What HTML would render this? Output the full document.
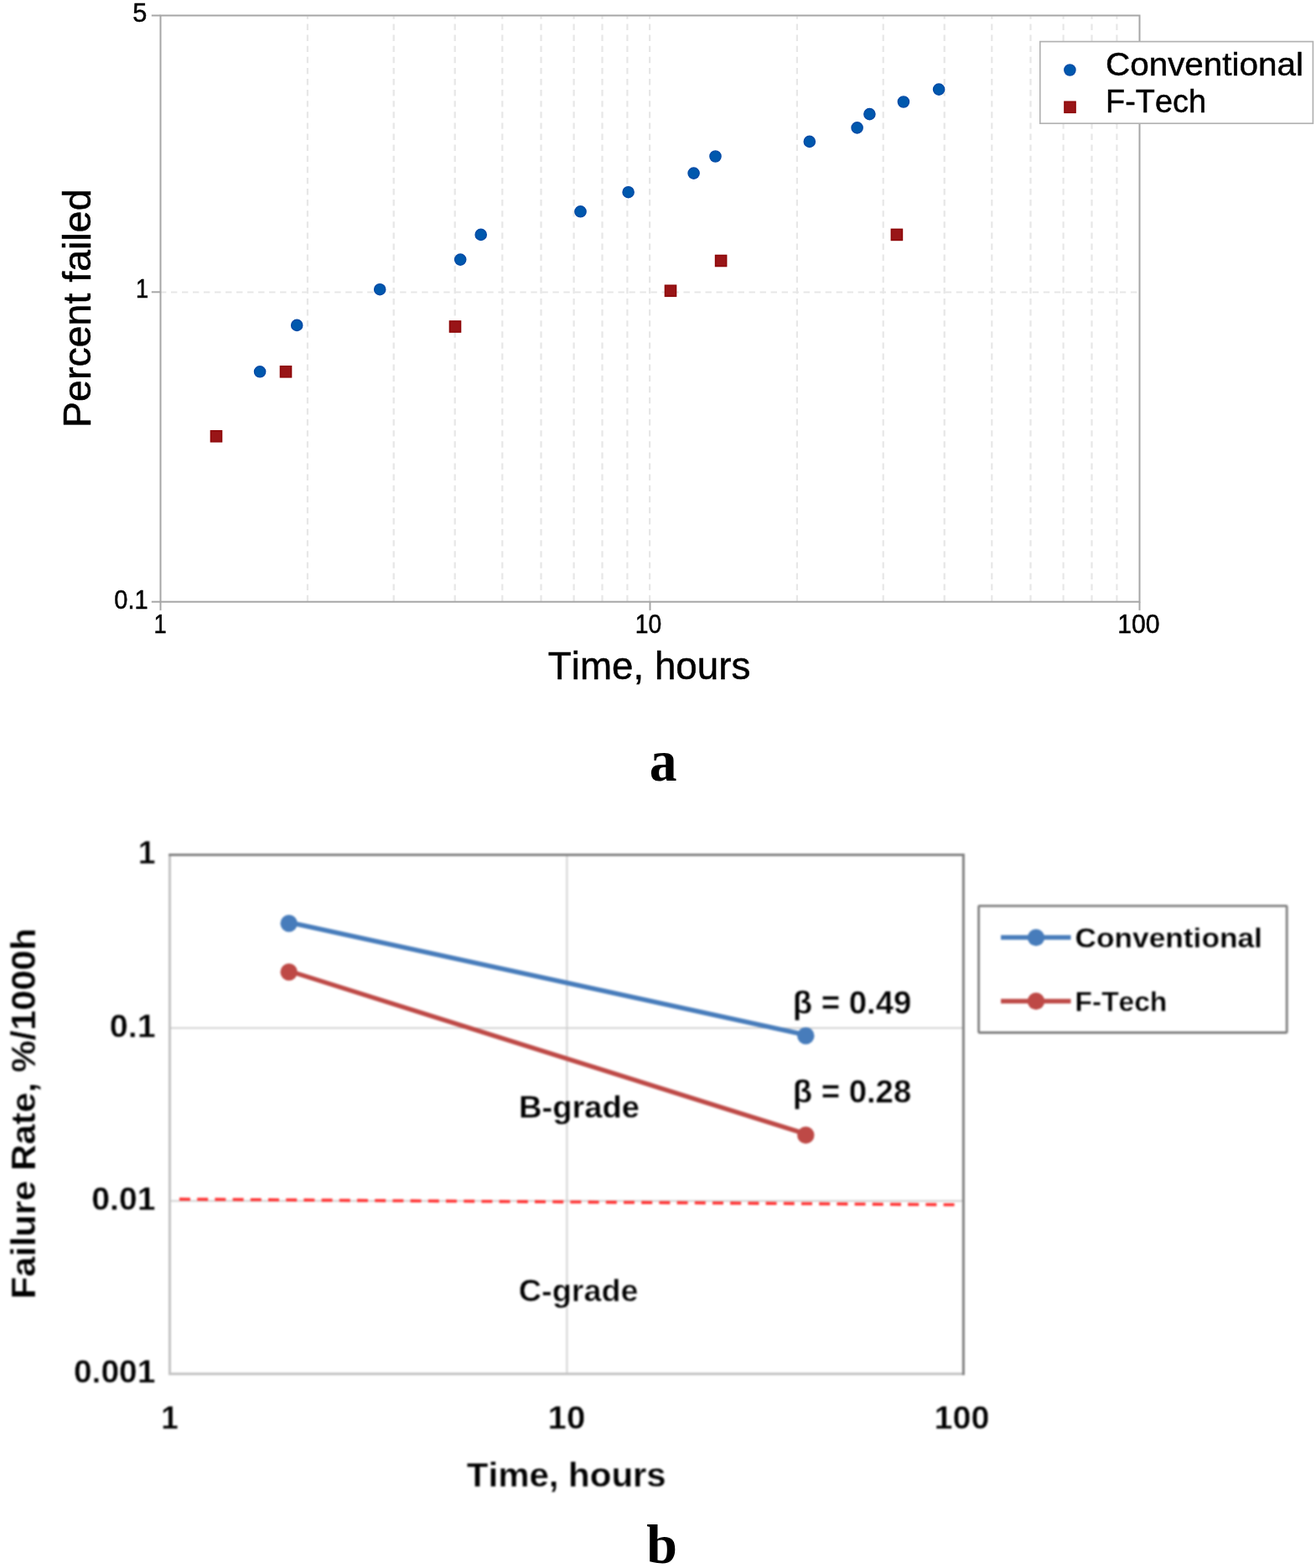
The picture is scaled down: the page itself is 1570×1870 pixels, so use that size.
<!DOCTYPE html>
<html lang="en">
<head>
<meta charset="utf-8">
<title>Weibull plot and failure rate: Conventional vs F-Tech</title>
<style>
html,body{margin:0;padding:0;background:#fff;}
body{width:1570px;height:1870px;overflow:hidden;}
svg{display:block;}
text{font-kerning:none;font-variant-ligatures:none;}
</style>
</head>
<body>
<svg width="1570" height="1870" viewBox="0 0 1570 1870" role="img" aria-label="Weibull probability plot (a) and failure rate versus time (b) for Conventional and F-Tech">
<defs>
<filter id="soften" filterUnits="userSpaceOnUse" x="0" y="960" width="1570" height="830" color-interpolation-filters="sRGB">
<feGaussianBlur stdDeviation="1"/>
</filter>
</defs>
<rect width="1570" height="1870" fill="#fff"/>
<g id="chart-a">
<g stroke="#e7e7e7" stroke-width="2.2" stroke-dasharray="7.4 5.7" fill="none">
<line x1="366.9" y1="717.1" x2="366.9" y2="19.5"/>
<line x1="469.7" y1="717.1" x2="469.7" y2="19.5"/>
<line x1="542.7" y1="717.1" x2="542.7" y2="19.5"/>
<line x1="599.3" y1="717.1" x2="599.3" y2="19.5"/>
<line x1="645.5" y1="717.1" x2="645.5" y2="19.5"/>
<line x1="684.6" y1="717.1" x2="684.6" y2="19.5"/>
<line x1="718.5" y1="717.1" x2="718.5" y2="19.5"/>
<line x1="748.4" y1="717.1" x2="748.4" y2="19.5"/>
<line x1="775.1" y1="717.1" x2="775.1" y2="19.5"/>
<line x1="950.9" y1="717.1" x2="950.9" y2="19.5"/>
<line x1="1053.7" y1="717.1" x2="1053.7" y2="19.5"/>
<line x1="1126.7" y1="717.1" x2="1126.7" y2="19.5"/>
<line x1="1183.3" y1="717.1" x2="1183.3" y2="19.5"/>
<line x1="1229.5" y1="717.1" x2="1229.5" y2="19.5"/>
<line x1="1268.6" y1="717.1" x2="1268.6" y2="19.5"/>
<line x1="1302.5" y1="717.1" x2="1302.5" y2="19.5"/>
<line x1="1332.4" y1="717.1" x2="1332.4" y2="19.5"/>
<line x1="191.0" y1="348.5" x2="1358.5" y2="348.5" stroke-dasharray="7.4 5.61"/>
</g>
<g stroke="#a6a6a6" stroke-width="2.0" fill="none">
<rect x="191.5" y="18.5" width="1168.0" height="699.2"/>
<line x1="180.8" y1="18.5" x2="191.5" y2="18.5"/>
<line x1="180.8" y1="348.3" x2="191.5" y2="348.3"/>
<line x1="180.8" y1="717.7" x2="191.5" y2="717.7"/>
<line x1="191.5" y1="717.7" x2="191.5" y2="727.9000000000001"/>
<line x1="775.5" y1="717.7" x2="775.5" y2="727.9000000000001"/>
<line x1="1359.5" y1="717.7" x2="1359.5" y2="727.9000000000001"/>
</g>
<text transform="translate(158.37 25.50) scale(0.9776 1)" font-family="Liberation Sans, sans-serif" font-size="31.5" fill="#000" stroke="#000" stroke-width="0.5">5</text>
<text transform="translate(162.12 355.20) scale(0.8688 1)" font-family="Liberation Sans, sans-serif" font-size="31.5" fill="#000" stroke="#000" stroke-width="0.5">1</text>
<text transform="translate(136.27 726.40) scale(0.9215 1)" font-family="Liberation Sans, sans-serif" font-size="31.5" fill="#000" stroke="#000" stroke-width="0.5">0.1</text>
<text transform="translate(183.52 754.70) scale(0.8688 1)" font-family="Liberation Sans, sans-serif" font-size="31.5" fill="#000" stroke="#000" stroke-width="0.5">1</text>
<text transform="translate(757.85 754.60) scale(0.8979 1)" font-family="Liberation Sans, sans-serif" font-size="31.5" fill="#000" stroke="#000" stroke-width="0.5">10</text>
<text transform="translate(1333.20 754.60) scale(0.9606 1)" font-family="Liberation Sans, sans-serif" font-size="31.5" fill="#000" stroke="#000" stroke-width="0.5">100</text>
<text transform="translate(653.87 810.00) scale(1.0035 1)" font-family="Liberation Sans, sans-serif" font-size="45.6" fill="#000" stroke="#000" stroke-width="0.5">Time, hours</text>
<text transform="translate(108.40 510.02) rotate(-90) scale(1.0208 1)" font-family="Liberation Sans, sans-serif" font-size="45.6" fill="#000" stroke="#000" stroke-width="0.5">Percent failed</text>
<g fill="#0058ad" stroke="#034aa6" stroke-width="1.4">
<circle cx="310.1" cy="443.3" r="6.6"/>
<circle cx="354.2" cy="387.9" r="6.6"/>
<circle cx="453.2" cy="345.2" r="6.6"/>
<circle cx="549.2" cy="309.6" r="6.6"/>
<circle cx="573.7" cy="279.9" r="6.6"/>
<circle cx="692.5" cy="252.3" r="6.6"/>
<circle cx="749.6" cy="229.2" r="6.6"/>
<circle cx="827.6" cy="206.6" r="6.6"/>
<circle cx="853.5" cy="186.5" r="6.6"/>
<circle cx="965.8" cy="168.9" r="6.6"/>
<circle cx="1022.6" cy="152.4" r="6.6"/>
<circle cx="1037.4" cy="136.1" r="6.6"/>
<circle cx="1077.9" cy="121.5" r="6.6"/>
<circle cx="1120.1" cy="106.6" r="6.6"/>
</g>
<g fill="#991517" stroke="#8d0507" stroke-width="1.4">
<rect x="251.4" y="513.7" width="13.2" height="13.2"/>
<rect x="334.4" y="436.7" width="13.2" height="13.2"/>
<rect x="536.4" y="382.9" width="13.2" height="13.2"/>
<rect x="793.4" y="340.2" width="13.2" height="13.2"/>
<rect x="853.5" y="304.4" width="13.2" height="13.2"/>
<rect x="1063.3" y="273.3" width="13.2" height="13.2"/>
</g>
<rect x="1240.8" y="49.6" width="325.6" height="97.6" fill="#fff" stroke="#b2b2b2" stroke-width="1.7"/>
<circle cx="1276.4" cy="83.5" r="6.6" fill="#0058ad" stroke="#034aa6" stroke-width="1.4"/>
<rect x="1269.9" y="121.2" width="13.2" height="13.2" fill="#991517" stroke="#8d0507" stroke-width="1.4"/>
<text transform="translate(1318.95 89.60) scale(1.0268 1)" font-family="Liberation Sans, sans-serif" font-size="39.4" fill="#000" stroke="#000" stroke-width="0.5">Conventional</text>
<text transform="translate(1319.10 134.20) scale(0.9606 1)" font-family="Liberation Sans, sans-serif" font-size="39.4" fill="#000" stroke="#000" stroke-width="0.5">F-Tech</text>
</g>
<text transform="translate(774.79 930.61) scale(0.9649 1.0316)" font-family="Liberation Serif, serif" font-weight="bold" font-size="68" fill="#000">a</text>
<text transform="translate(771.26 1864.46) scale(0.9708 0.9614)" font-family="Liberation Serif, serif" font-weight="bold" font-size="68" fill="#000">b</text>
<g id="chart-b" filter="url(#soften)">
<rect x="0" y="960" width="1570" height="830" fill="#fff"/>
<g stroke="#d2d2d2" stroke-width="2" fill="none">
<line x1="676.4" y1="1019.6" x2="676.4" y2="1638.6"/>
<line x1="202.5" y1="1226.0" x2="1149.4" y2="1226.0"/>
<line x1="202.5" y1="1432.2" x2="1149.4" y2="1432.2"/>
</g>
<path d="M202.5 1019.6 V1638.6 H1149.4" fill="none" stroke="#c3c3c3" stroke-width="3"/>
<path d="M201.2 1019.6 H1149.4 V1639.9" fill="none" stroke="#828282" stroke-width="3"/>
<text transform="translate(164.64 1030.00) scale(0.9588 1)" font-family="Liberation Sans, sans-serif" font-weight="bold" font-size="39" fill="#000" stroke="#fff" stroke-width="0.4">1</text>
<text transform="translate(130.83 1236.50) scale(1.0158 1)" font-family="Liberation Sans, sans-serif" font-weight="bold" font-size="39" fill="#000" stroke="#fff" stroke-width="0.4">0.1</text>
<text transform="translate(109.35 1443.20) scale(1.0017 1)" font-family="Liberation Sans, sans-serif" font-weight="bold" font-size="39" fill="#000" stroke="#fff" stroke-width="0.4">0.01</text>
<text transform="translate(87.96 1649.40) scale(0.9982 1)" font-family="Liberation Sans, sans-serif" font-weight="bold" font-size="39" fill="#000" stroke="#fff" stroke-width="0.4">0.001</text>
<text transform="translate(192.36 1704.10) scale(0.9533 1)" font-family="Liberation Sans, sans-serif" font-weight="bold" font-size="39" fill="#000" stroke="#fff" stroke-width="0.4">1</text>
<text transform="translate(653.46 1703.90) scale(1.0350 1)" font-family="Liberation Sans, sans-serif" font-weight="bold" font-size="39" fill="#000" stroke="#fff" stroke-width="0.4">10</text>
<text transform="translate(1114.62 1704.10) scale(1.0112 1)" font-family="Liberation Sans, sans-serif" font-weight="bold" font-size="39" fill="#000" stroke="#fff" stroke-width="0.4">100</text>
<text transform="translate(556.83 1772.60) scale(1.0238 1)" font-family="Liberation Sans, sans-serif" font-weight="bold" font-size="41" fill="#000" stroke="#fff" stroke-width="0.3">Time, hours</text>
<text transform="translate(42.00 1548.98) rotate(-90) scale(1.0488 1)" font-family="Liberation Sans, sans-serif" font-weight="bold" font-size="41" fill="#000" stroke="#fff" stroke-width="0.3">Failure Rate, %/1000h</text>
<line x1="344.8" y1="1100.0" x2="961.3" y2="1234.2" stroke="#477cbb" stroke-width="5.5"/>
<line x1="344.8" y1="1158.0" x2="961.3" y2="1352.4" stroke="#be4946" stroke-width="5.5"/>
<circle cx="344.7" cy="1101.2" r="10.2" fill="#477cbb"/>
<circle cx="961.3" cy="1235.3" r="10.2" fill="#477cbb"/>
<circle cx="344.7" cy="1159.2" r="10.2" fill="#be4946"/>
<circle cx="961.3" cy="1353.7" r="10.2" fill="#be4946"/>
<line x1="214" y1="1430.1" x2="1139.5" y2="1436.8" stroke="#ff3333" stroke-width="3.6" stroke-dasharray="13 8.2"/>
<text transform="translate(945.74 1208.90) scale(0.9828 1)" font-family="Liberation Sans, sans-serif" font-weight="bold" font-size="39" fill="#000" stroke="#fff" stroke-width="0.4">β = 0.49</text>
<text transform="translate(945.75 1315.20) scale(0.9811 1)" font-family="Liberation Sans, sans-serif" font-weight="bold" font-size="39" fill="#000" stroke="#fff" stroke-width="0.4">β = 0.28</text>
<text transform="translate(619.05 1333.00) scale(1.0207 1)" font-family="Liberation Sans, sans-serif" font-weight="bold" font-size="37.3" fill="#000" stroke="#fff" stroke-width="0.3">B-grade</text>
<text transform="translate(618.75 1552.00) scale(1.0136 1)" font-family="Liberation Sans, sans-serif" font-weight="bold" font-size="37.3" fill="#000" stroke="#fff" stroke-width="0.55">C-grade</text>
<rect x="1167.6" y="1080.4" width="367.6" height="151.1" rx="1" fill="#fff" stroke="#808080" stroke-width="2.8"/>
<line x1="1194.1" y1="1118.1" x2="1277.5" y2="1118.1" stroke="#477cbb" stroke-width="5.5"/>
<circle cx="1236" cy="1118.1" r="10.2" fill="#477cbb"/>
<line x1="1194.1" y1="1194.0" x2="1277.5" y2="1194.0" stroke="#be4946" stroke-width="5.5"/>
<circle cx="1236" cy="1194.0" r="10.2" fill="#be4946"/>
<text transform="translate(1282.45 1130.20) scale(1.0381 1)" font-family="Liberation Sans, sans-serif" font-weight="bold" font-size="34" fill="#000" stroke="#fff" stroke-width="0.3">Conventional</text>
<text transform="translate(1282.56 1205.90) scale(0.9845 1)" font-family="Liberation Sans, sans-serif" font-weight="bold" font-size="34" fill="#000" stroke="#fff" stroke-width="0.3">F-Tech</text>
</g>
</svg>
</body>
</html>
